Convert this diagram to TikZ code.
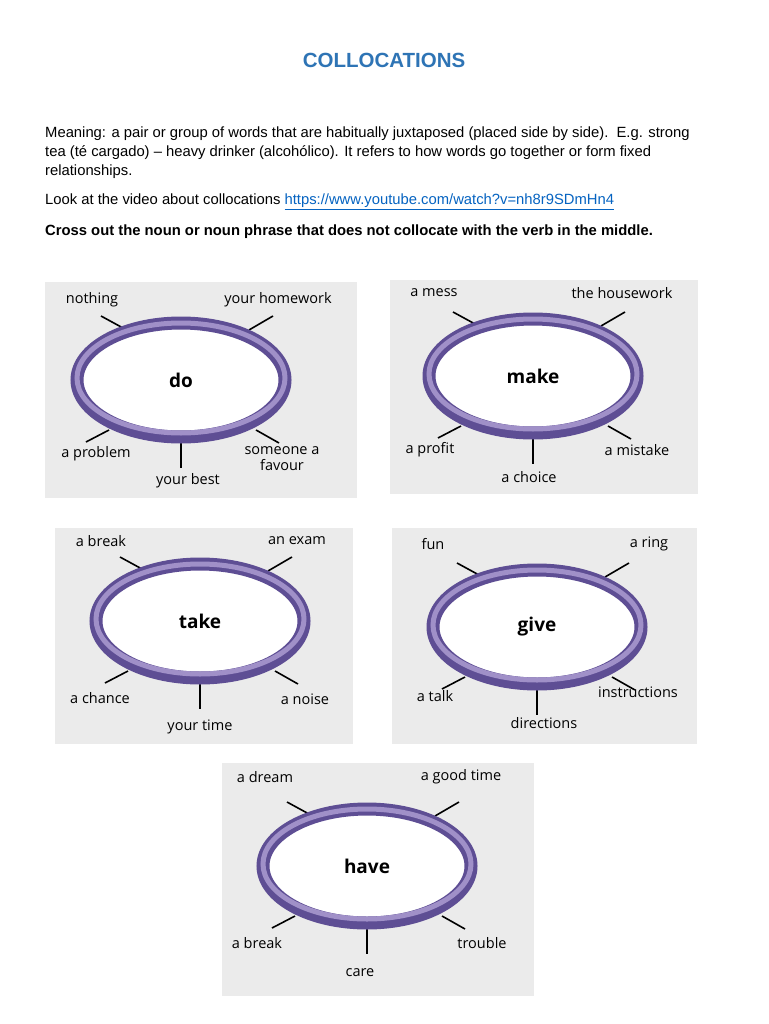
\documentclass[tikz,border=0pt]{standalone}
\usepackage{fontspec}
\setmainfont{Liberation Sans}
\newfontfamily\lblfont{Open Sans}
\definecolor{ttl}{HTML}{2E74B5}
\definecolor{lnk}{HTML}{0563C1}
\definecolor{panel}{HTML}{EBEBEB}
\definecolor{ringd}{HTML}{5E4E94}
\definecolor{ringl}{HTML}{A090C8}
\tikzset{
 body/.style={anchor=west,inner sep=0pt,font=\fontsize{14.8}{17}\selectfont},
 lbl/.style={inner sep=0pt,font=\lblfont\fontsize{14.5}{16}\selectfont,align=center},
 verb/.style={inner sep=0pt,font=\lblfont\bfseries\fontsize{19}{22}\selectfont},
 spoke/.style={line width=1.6pt,black},
 panelbox/.style={fill=panel,draw=none},
}
\newcommand{\ring}[3]{%
 \fill[white] (#1,#2) ellipse [x radius=104,y radius=57];
 \draw[ringd,line width=13pt] (#1,#2) ellipse [x radius=104,y radius=57];
 \draw[ringl,line width=5pt] (#1,#2-2) ellipse [x radius=104,y radius=55];
 \node[verb] at (#1,#2) {#3};}
\newcommand{\spokes}[2]{%
 \draw[spoke] (#1-80,#2-64) -- (#1-58,#2-52);
 \draw[spoke] (#1+92,#2-64) -- (#1+68,#2-50);
 \draw[spoke] (#1-72,#2+50) -- (#1-95,#2+62);
 \draw[spoke] (#1,#2+60) -- (#1,#2+88);
 \draw[spoke] (#1+75,#2+50) -- (#1+98,#2+63);}
\begin{document}
\begin{tikzpicture}[x=1pt,y=-1pt]
\useasboundingbox (0,0) rectangle (768,1024);
\fill[white] (0,0) rectangle (768,1024);
\node[inner sep=0pt,font=\bfseries\fontsize{20.5}{22}\selectfont,text=ttl] (title) at (384,60) {COLLOCATIONS};
\node[body] (t1) at (45,134) {Meaning: a pair or group of words that are habitually juxtaposed (placed side by side).\ \ E.g. strong};
\node[body] (t2) at (45,153) {tea (té cargado) – heavy drinker (alcohólico). It refers to how words go together or form fixed};
\node[body] (t3) at (45,172) {relationships.};
\node[body] (t4) at (45,202) {Look at the video about collocations \textcolor{lnk}{\underline{https://www.youtube.com/watch?v=nh8r9SDmHn4}}};
\node[body,font=\bfseries\fontsize{14.8}{17}\selectfont] (t5) at (45,232) {Cross out the noun or noun phrase that does not collocate with the verb in the middle.};
% panels
\fill[panelbox] (45,282) rectangle (357,498);
\fill[panelbox] (390,280) rectangle (698,494);
\fill[panelbox] (55,528) rectangle (353,744);
\fill[panelbox] (392,528) rectangle (697,744);
\fill[panelbox] (222,763) rectangle (534,996);
% do
\spokes{181}{380}\ring{181}{380}{do}
\node[lbl] (d1) at (92,300) {nothing};
\node[lbl] (d2) at (278,300) {your homework};
\node[lbl] (d3) at (96,454) {a problem};
\node[lbl] (d4) at (188,481) {your best};
\node[lbl] (d5) at (282,459) {someone a\\favour};
% make
\spokes{533}{376}\ring{533}{376}{make}
\node[lbl] (m1) at (434,293) {a mess};
\node[lbl] (m2) at (622,293) {the housework};
\node[lbl] (m3) at (430,450) {a profit};
\node[lbl] (m4) at (529,477) {a choice};
\node[lbl] (m5) at (637,450) {a mistake};
% take
\spokes{200}{621}\ring{200}{621}{take}
\node[lbl] (k1) at (101,541) {a break};
\node[lbl] (k2) at (297,541) {an exam};
\node[lbl] (k3) at (100,698) {a chance};
\node[lbl] (k4) at (200,727) {your time};
\node[lbl] (k5) at (305,699) {a noise};
% give
\spokes{537}{627}\ring{537}{627}{give}
\node[lbl] (g1) at (433,544) {fun};
\node[lbl] (g2) at (649,544) {a ring};
\node[lbl] (g3) at (435,696) {a talk};
\node[lbl] (g4) at (544,723) {directions};
\node[lbl] (g5) at (638,692) {instructions};
% have
\spokes{367}{866}\ring{367}{866}{have}
\node[lbl] (h1) at (265,777) {a dream};
\node[lbl] (h2) at (461,777) {a good time};
\node[lbl] (h3) at (257,943) {a break};
\node[lbl] (h4) at (482,943) {trouble};
\node[lbl] (h5) at (360,973) {care};
\end{tikzpicture}
\end{document}
